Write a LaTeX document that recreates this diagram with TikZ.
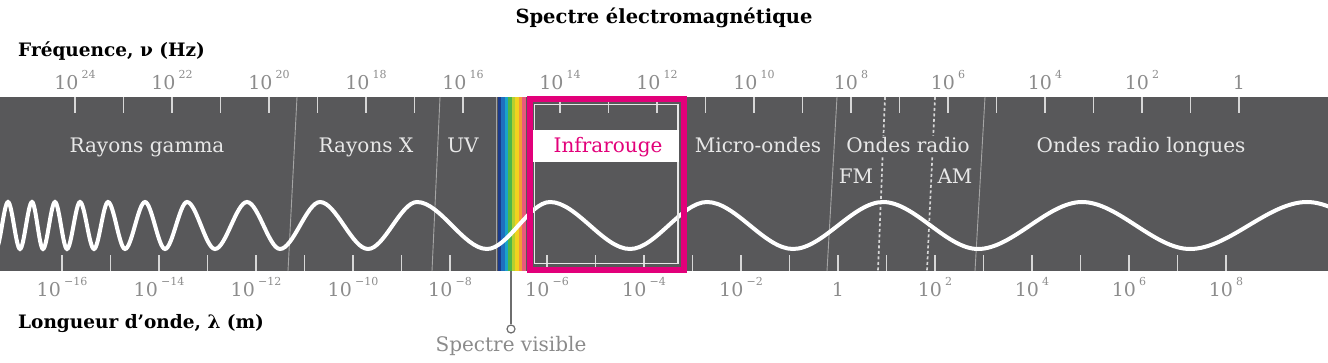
\documentclass[tikz,border=0pt]{standalone}
\usepackage{fontspec}
\setmainfont{DejaVu Serif}
\usetikzlibrary{positioning}
\definecolor{bandgrey}{RGB}{88, 88, 90}
\definecolor{textgrey}{RGB}{232, 232, 232}
\definecolor{numgrey}{RGB}{140, 140, 140}
\definecolor{tickgrey}{RGB}{215, 215, 215}
\definecolor{limitgrey}{RGB}{165, 165, 165}
\definecolor{leadgrey}{RGB}{110, 110, 110}
\definecolor{magenta}{RGB}{226, 0, 122}
\definecolor{rbnavy}{RGB}{27, 58, 138}
\definecolor{rbblue}{RGB}{31, 111, 191}
\definecolor{rbcyan}{RGB}{26, 163, 201}
\definecolor{rbgreen}{RGB}{76, 182, 73}
\definecolor{rblime}{RGB}{181, 207, 47}
\definecolor{rbyellow}{RGB}{241, 210, 31}
\definecolor{rborange}{RGB}{243, 154, 55}
\definecolor{rbpink}{RGB}{232, 89, 123}
\newcommand{\pw}[1]{10\,\raisebox{0.62em}{\fontsize{11}{11}\selectfont #1}}
\tikzset{
    band/.style = {fill=bandgrey},
    tick/.style = {draw=tickgrey, line width=1.6pt},
    limit/.style = {draw=limitgrey, line width=0.9pt},
    radioline/.style = {draw=tickgrey, line width=1.7pt, dash pattern=on 3pt off 2.5pt},
    wave/.style = {draw=white, line width=4pt},
    irframe/.style = {draw=magenta, line width=6pt},
    irinner/.style = {draw=textgrey, line width=1.6pt},
    bandlabel/.style = {
      text=textgrey,
      font=\fontsize{20}{22}\selectfont,
      anchor=base,
      inner sep=2pt
    },
    numlabel/.style = {
      text=numgrey,
      font=\fontsize{19}{21}\selectfont,
      anchor=base,
      inner sep=0pt
    },
    axistitle/.style = {
      font=\bfseries\fontsize{18.5}{20}\selectfont,
      anchor=base west,
      inner sep=0pt
    },
    visdot/.style = {circle, draw=leadgrey, fill=white, line width=1.2pt, inner sep=0pt, minimum size=8pt},
    leader/.style = {draw=leadgrey, line width=1.4pt},
}
\begin{document}
\begin{tikzpicture}[x=1pt, y=-1pt]
      \useasboundingbox (0,0) rectangle (1328,363);

      \fill[band] (0,97) rectangle (1328,271);

      % graduations
      \foreach \i in {0,...,24} {
        \draw[tick] ({75+48.5*\i},97) -- ++(0,16);
        \draw[tick] ({62+48.5*\i},271) -- ++(0,-16);
      }

      % limites des domaines
      \foreach \xt/\xb in {297/288, 440/432, 837/827, 985/975}
        \draw[limit] (\xt,97) -- (\xb,271);
      \draw[radioline] (885,97) -- (878,271);
      \draw[radioline] (935,97) -- (927,271);

      % spectre visible
      \foreach \col [count=\k from 0] in {rbnavy, rbblue, rbcyan, rbgreen, rblime, rbyellow, rborange, rbpink}
        \fill[\col] ({497.5+3.5*\k},97) rectangle ++(3.5,174);
      \draw[limitgrey, line width=1pt] (496.5,97) -- (496.5,271);

      % onde
      \begin{scope}
        \clip (0,97) rectangle (1328,271);
        \draw[wave] (-4,249)
          \foreach \xb [count=\k, remember=\xb as \xa (initially -4),
                        evaluate=\k as \ya using {mod(\k,2)==1 ? 249 : 202},
                        evaluate=\k as \yb using {mod(\k,2)==1 ? 202 : 249}]
          in {8,20,32,43,55,67,80,94,108,125,145,165,187,215,247,280,320,368,417,487,550,630,707,793,883,978,1082,1190,1307,1420}
          { .. controls ({\xa+0.33*(\xb-\xa)},\ya) and ({\xb-0.33*(\xb-\xa)},\yb) .. (\xb,\yb) };
      \end{scope}

      % infrarouge
      \draw[irinner] (534.5,104.5) rectangle (678,263.5);
      \fill[white] (533,130) rectangle (679,162);
      \draw[irframe] (530,99) rectangle (684,270);

      % domaines
      \node[bandlabel] (gamma) at (147,153) {Rayons gamma};
      \node[bandlabel] (xray) at (366,153) {Rayons X};
      \node[bandlabel] (uv) at (463,153) {UV};
      \node[bandlabel, text=magenta] (ir) at (608,153) {Infrarouge};
      \node[bandlabel] (micro) at (758,153) {Micro-ondes};
      \node[bandlabel, fill=bandgrey] (radio) at (908,153) {Ondes radio};
      \node[bandlabel] (fm) at (856,184) {FM};
      \node[bandlabel] (am) at (955,184) {AM};
      \node[bandlabel] (longradio) at (1141,153) {Ondes radio longues};

      % frequences
      \foreach \e [count=\k from 0] in {24,22,...,2}
        \node[numlabel] (f\e) at ({75+97*\k},90) {\pw{\e}};
      \node[numlabel] (f0) at (1239,90) {1};

      % longueurs d'onde
      \foreach \e [count=\k from 0] in {16,14,...,2}
        \node[numlabel] (wlm\e) at ({62+97*\k},297) {\pw{−\e}};
      \node[numlabel] (wl0) at (838,297) {1};
      \foreach \e [count=\k from 0] in {2,4,6,8}
        \node[numlabel] (wl\e) at ({935+97*\k},297) {\pw{\e}};

      \node[axistitle, anchor=base, font=\bfseries\fontsize{19.5}{21}\selectfont] (title) at (664,24) {Spectre électromagnétique};
      \node[axistitle] (freqtitle) at (18,57) {Fréquence, ν (Hz)};
      \node[axistitle] (wltitle) at (18,329) {Longueur d’onde, λ (m)};

      \coordinate (visfoot) at (511,271);
      \node[visdot] (visdot) at (511,329) {};
      \draw[leader] (visfoot) -- (visdot);
      \node[numlabel, text=leadgrey!80, font=\fontsize{20}{22}\selectfont, anchor=north, below=3pt of visdot] (vislabel) {Spectre visible};
    \end{tikzpicture}
\end{document}
